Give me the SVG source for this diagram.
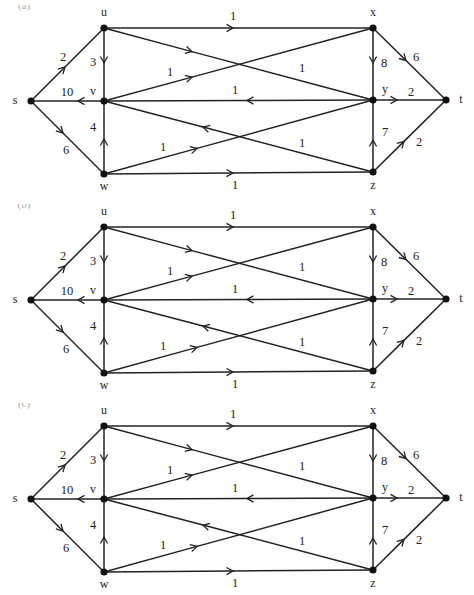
<svg xmlns="http://www.w3.org/2000/svg" width="474" height="595" viewBox="0 0 474 595">
<style>
.e{fill:none;stroke:#222;stroke-width:1.5;marker-mid:url(#ar)}
.n{fill:#111}
.t{font-family:"Liberation Serif","Times New Roman",serif;font-size:12.5px;fill:#222;text-anchor:middle}
.nl{font-family:"Liberation Serif","Times New Roman",serif;font-size:12px;fill:#222;text-anchor:middle}
.cap{font-family:"Liberation Serif","Times New Roman",serif;font-size:11px;fill:#aaa;text-anchor:middle}
</style>
<defs>
<marker id="ar" viewBox="-8 -5 10 10" refX="0" refY="0" markerWidth="10" markerHeight="10" markerUnits="userSpaceOnUse" orient="auto">
<path d="M-6.5,-3.6 L0,0 L-6.5,3.6" fill="none" stroke="#222" stroke-width="1.3"/>
</marker>
<clipPath id="cc"><rect x="0" y="5" width="60" height="7"/></clipPath>
</defs>
<rect width="474" height="595" fill="#fff"/>

<g id="panel-a">
<text class="cap" x="24" y="9" clip-path="url(#cc)">(a)</text>
<g id="a-connectors">
<path class="e" d="M31,101 L65,67 L104,28"/>
<path class="e" d="M31,101 L63,133 L104,174"/>
<path class="e" d="M104,101 L78,101 L31,101"/>
<path class="e" d="M104,28 L104,63 L104,101"/>
<path class="e" d="M104,174 L104,139 L104,101"/>
<path class="e" d="M104,28 L233,28 L373,28"/>
<path class="e" d="M104,28 L192,51.6 L373,100"/>
<path class="e" d="M104,101 L192,77.1 L373,28"/>
<path class="e" d="M373,100 L247,100.5 L104,101"/>
<path class="e" d="M104,174 L197,148.4 L373,100"/>
<path class="e" d="M373,172 L203,127.1 L104,101"/>
<path class="e" d="M104,174 L233,173 L373,172"/>
<path class="e" d="M373,28 L373,63 L373,100"/>
<path class="e" d="M373,172 L373,140 L373,100"/>
<path class="e" d="M373,28 L406,60.5 L446,100"/>
<path class="e" d="M373,100 L397,100 L446,100"/>
<path class="e" d="M373,172 L404,141.4 L446,100"/>
<text class="t" x="63" y="61">2</text>
<text class="t" x="66" y="154">6</text>
<text class="t" x="67" y="96">10</text>
<text class="t" x="93" y="66">3</text>
<text class="t" x="93" y="131">4</text>
<text class="t" x="233" y="20">1</text>
<text class="t" x="170" y="76">1</text>
<text class="t" x="235" y="94">1</text>
<text class="t" x="163" y="151">1</text>
<text class="t" x="302" y="72">1</text>
<text class="t" x="302" y="147">1</text>
<text class="t" x="235" y="189">1</text>
<text class="t" x="384" y="67">8</text>
<text class="t" x="385" y="136">7</text>
<text class="t" x="416" y="61">6</text>
<text class="t" x="411" y="96">2</text>
<text class="t" x="419" y="146">2</text>
</g>
<g id="a-s"><circle class="n" cx="31" cy="101" r="3.6"/><text class="nl" x="15" y="104">s</text></g>
<g id="a-u"><circle class="n" cx="104" cy="28" r="3.6"/><text class="nl" x="104" y="16">u</text></g>
<g id="a-v"><circle class="n" cx="104" cy="101" r="3.6"/><text class="nl" x="93" y="95">v</text></g>
<g id="a-w"><circle class="n" cx="104" cy="174" r="3.6"/><text class="nl" x="104" y="190">w</text></g>
<g id="a-x"><circle class="n" cx="373" cy="28" r="3.6"/><text class="nl" x="373" y="16">x</text></g>
<g id="a-y"><circle class="n" cx="373" cy="100" r="3.6"/><text class="nl" x="385" y="93">y</text></g>
<g id="a-z"><circle class="n" cx="373" cy="172" r="3.6"/><text class="nl" x="373" y="189">z</text></g>
<g id="a-t"><circle class="n" cx="446" cy="100" r="3.6"/><text class="nl" x="461" y="103">t</text></g>
</g>

<g id="panel-b" transform="translate(0,199)">
<text class="cap" x="24" y="9" clip-path="url(#cc)">(b)</text>
<g id="b-connectors">
<path class="e" d="M31,101 L65,67 L104,28"/>
<path class="e" d="M31,101 L63,133 L104,174"/>
<path class="e" d="M104,101 L78,101 L31,101"/>
<path class="e" d="M104,28 L104,63 L104,101"/>
<path class="e" d="M104,174 L104,139 L104,101"/>
<path class="e" d="M104,28 L233,28 L373,28"/>
<path class="e" d="M104,28 L192,51.6 L373,100"/>
<path class="e" d="M104,101 L192,77.1 L373,28"/>
<path class="e" d="M373,100 L247,100.5 L104,101"/>
<path class="e" d="M104,174 L197,148.4 L373,100"/>
<path class="e" d="M373,172 L203,127.1 L104,101"/>
<path class="e" d="M104,174 L233,173 L373,172"/>
<path class="e" d="M373,28 L373,63 L373,100"/>
<path class="e" d="M373,172 L373,140 L373,100"/>
<path class="e" d="M373,28 L406,60.5 L446,100"/>
<path class="e" d="M373,100 L397,100 L446,100"/>
<path class="e" d="M373,172 L404,141.4 L446,100"/>
<text class="t" x="63" y="61">2</text>
<text class="t" x="66" y="154">6</text>
<text class="t" x="67" y="96">10</text>
<text class="t" x="93" y="66">3</text>
<text class="t" x="93" y="131">4</text>
<text class="t" x="233" y="20">1</text>
<text class="t" x="170" y="76">1</text>
<text class="t" x="235" y="94">1</text>
<text class="t" x="163" y="151">1</text>
<text class="t" x="302" y="72">1</text>
<text class="t" x="302" y="147">1</text>
<text class="t" x="235" y="189">1</text>
<text class="t" x="384" y="67">8</text>
<text class="t" x="385" y="136">7</text>
<text class="t" x="416" y="61">6</text>
<text class="t" x="411" y="96">2</text>
<text class="t" x="419" y="146">2</text>
</g>
<g id="b-s"><circle class="n" cx="31" cy="101" r="3.6"/><text class="nl" x="15" y="104">s</text></g>
<g id="b-u"><circle class="n" cx="104" cy="28" r="3.6"/><text class="nl" x="104" y="16">u</text></g>
<g id="b-v"><circle class="n" cx="104" cy="101" r="3.6"/><text class="nl" x="93" y="95">v</text></g>
<g id="b-w"><circle class="n" cx="104" cy="174" r="3.6"/><text class="nl" x="104" y="190">w</text></g>
<g id="b-x"><circle class="n" cx="373" cy="28" r="3.6"/><text class="nl" x="373" y="16">x</text></g>
<g id="b-y"><circle class="n" cx="373" cy="100" r="3.6"/><text class="nl" x="385" y="93">y</text></g>
<g id="b-z"><circle class="n" cx="373" cy="172" r="3.6"/><text class="nl" x="373" y="189">z</text></g>
<g id="b-t"><circle class="n" cx="446" cy="100" r="3.6"/><text class="nl" x="461" y="103">t</text></g>
</g>

<g id="panel-c" transform="translate(0,398)">
<text class="cap" x="24" y="9" clip-path="url(#cc)">(c)</text>
<g id="c-connectors">
<path class="e" d="M31,101 L65,67 L104,28"/>
<path class="e" d="M31,101 L63,133 L104,174"/>
<path class="e" d="M104,101 L78,101 L31,101"/>
<path class="e" d="M104,28 L104,63 L104,101"/>
<path class="e" d="M104,174 L104,139 L104,101"/>
<path class="e" d="M104,28 L233,28 L373,28"/>
<path class="e" d="M104,28 L192,51.6 L373,100"/>
<path class="e" d="M104,101 L192,77.1 L373,28"/>
<path class="e" d="M373,100 L247,100.5 L104,101"/>
<path class="e" d="M104,174 L197,148.4 L373,100"/>
<path class="e" d="M373,172 L203,127.1 L104,101"/>
<path class="e" d="M104,174 L233,173 L373,172"/>
<path class="e" d="M373,28 L373,63 L373,100"/>
<path class="e" d="M373,172 L373,140 L373,100"/>
<path class="e" d="M373,28 L406,60.5 L446,100"/>
<path class="e" d="M373,100 L397,100 L446,100"/>
<path class="e" d="M373,172 L404,141.4 L446,100"/>
<text class="t" x="63" y="61">2</text>
<text class="t" x="66" y="154">6</text>
<text class="t" x="67" y="96">10</text>
<text class="t" x="93" y="66">3</text>
<text class="t" x="93" y="131">4</text>
<text class="t" x="233" y="20">1</text>
<text class="t" x="170" y="76">1</text>
<text class="t" x="235" y="94">1</text>
<text class="t" x="163" y="151">1</text>
<text class="t" x="302" y="72">1</text>
<text class="t" x="302" y="147">1</text>
<text class="t" x="235" y="189">1</text>
<text class="t" x="384" y="67">8</text>
<text class="t" x="385" y="136">7</text>
<text class="t" x="416" y="61">6</text>
<text class="t" x="411" y="96">2</text>
<text class="t" x="419" y="146">2</text>
</g>
<g id="c-s"><circle class="n" cx="31" cy="101" r="3.6"/><text class="nl" x="15" y="104">s</text></g>
<g id="c-u"><circle class="n" cx="104" cy="28" r="3.6"/><text class="nl" x="104" y="16">u</text></g>
<g id="c-v"><circle class="n" cx="104" cy="101" r="3.6"/><text class="nl" x="93" y="95">v</text></g>
<g id="c-w"><circle class="n" cx="104" cy="174" r="3.6"/><text class="nl" x="104" y="190">w</text></g>
<g id="c-x"><circle class="n" cx="373" cy="28" r="3.6"/><text class="nl" x="373" y="16">x</text></g>
<g id="c-y"><circle class="n" cx="373" cy="100" r="3.6"/><text class="nl" x="385" y="93">y</text></g>
<g id="c-z"><circle class="n" cx="373" cy="172" r="3.6"/><text class="nl" x="373" y="189">z</text></g>
<g id="c-t"><circle class="n" cx="446" cy="100" r="3.6"/><text class="nl" x="461" y="103">t</text></g>
</g>
</svg>
